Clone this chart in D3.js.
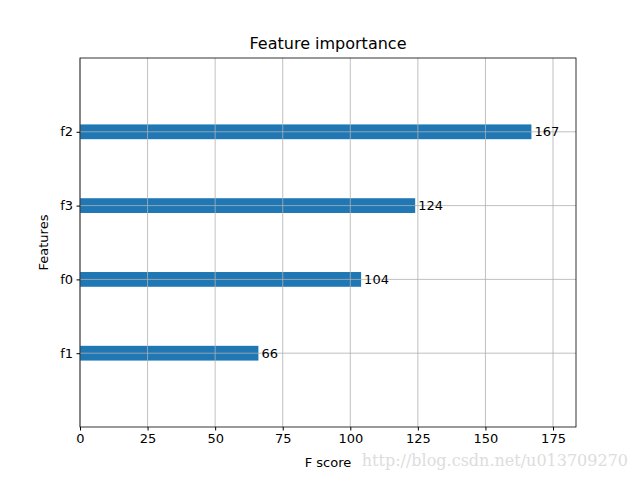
<!DOCTYPE html>
<html><head><meta charset="utf-8">
<script src="https://cdn.jsdelivr.net/npm/d3@7"></script>
<style>body{margin:0;background:#fff}text{font-family:"DejaVu Sans",sans-serif}</style>
</head><body>
<div id="chart"></div>
<script>
const features = ['f1', 'f0', 'f3', 'f2'];
const scores = [66, 104, 124, 167];
const xTicks = [0, 25, 50, 75, 100, 125, 150, 175];

const W = 640, H = 480;
const margin = {top: 58, right: 64, bottom: 53, left: 80};
const width = W - margin.left - margin.right;
const height = H - margin.top - margin.bottom;

const svg = d3.select('#chart').append('svg')
    .attr('width', W).attr('height', H);
const g = svg.append('g').attr('transform', `translate(${margin.left},${margin.top})`);

const x = d3.scaleLinear().domain([0, 183.5]).range([0, width]);
const y = d3.scaleLinear().domain([-1, features.length]).range([height, 0]);

// bars
g.selectAll('.bar').data(scores).enter().append('rect')
    .attr('x', 0)
    .attr('y', (d, i) => y(i + 0.1))
    .attr('width', d => x(d))
    .attr('height', y(0) - y(0.2))
    .attr('fill', '#1f77b4');

// grid
g.selectAll('.vg').data(xTicks).enter().append('line')
    .attr('x1', d => x(d)).attr('x2', d => x(d))
    .attr('y1', 0).attr('y2', height)
    .attr('stroke', '#b0b0b0').attr('stroke-width', 0.8);
g.selectAll('.hg').data(features).enter().append('line')
    .attr('x1', 0).attr('x2', width)
    .attr('y1', (d, i) => y(i)).attr('y2', (d, i) => y(i))
    .attr('stroke', '#b0b0b0').attr('stroke-width', 0.8);

// value labels
g.selectAll('.label').data(scores).enter().append('text')
    .attr('x', d => x(d) + 3)
    .attr('y', (d, i) => y(i))
    .attr('dy', '.35em')
    .attr('font-size', '13px')
    .text(d => d);

// axes
const xAxis = d3.axisBottom(x).tickValues(xTicks).tickSize(3.5).tickPadding(3.5);
g.append('g').attr('transform', `translate(0,${height})`).call(xAxis)
    .call(a => a.select('.domain').remove())
    .selectAll('text').style('font-size', '13px').attr('fill', '#000');
const yAxis = d3.axisLeft(y).tickValues(d3.range(features.length))
    .tickFormat(i => features[i]).tickSize(3.5).tickPadding(3.5);
g.append('g').call(yAxis)
    .call(a => a.select('.domain').remove())
    .selectAll('text').style('font-size', '13px').attr('fill', '#000');

g.append('rect').attr('width', width).attr('height', height)
    .attr('fill', 'none').attr('stroke', '#000').attr('stroke-width', 0.8);

svg.append('text').attr('x', margin.left + width / 2).attr('y', 49)
    .attr('text-anchor', 'middle').attr('font-size', '16px').text('Feature importance');
svg.append('text').attr('x', margin.left + width / 2).attr('y', 467)
    .attr('text-anchor', 'middle').attr('font-size', '13px').text('F score');
svg.append('text').attr('transform', `translate(48,${margin.top + height / 2}) rotate(-90)`)
    .attr('text-anchor', 'middle').attr('font-size', '13px').text('Features');
svg.append('text').attr('x', 628).attr('y', 466)
    .attr('text-anchor', 'end').attr('font-size', '16px').attr('fill', '#ddd')
    .style('font-family', '"DejaVu Serif",serif').text('http://blog.csdn.net/u013709270');
</script>
</body></html>
